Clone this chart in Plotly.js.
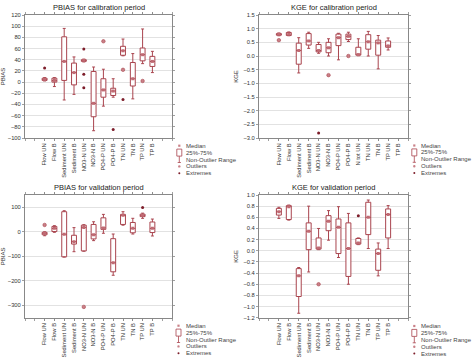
<!DOCTYPE html>
<html><head><meta charset="utf-8">
<script src="https://cdn.plot.ly/plotly-3.0.1.min.js"></script>
<style>html,body{margin:0;padding:0;background:#fff}#chart{width:474px;height:361px}</style>
</head><body><div id="chart"></div>
<script>
// ---------- DATA ----------
const catsPbiasCal = ['Flow UN','Flow B','Sediment UN','Sediment B','NO3-N UN','NO3-N B','PO4-P UN','PO4-P B','TN UN','TN B','TP UN','TP B'];
const pbiasCalMin = [2, -8, -32, -22, 36, -87, -43, -27, 47, -30, 33, 17];
const pbiasCalQ1  = [3, 0, 3, -5, 37, -62, -27, -24, 48, -7, 38, 28];
const pbiasCalMed = [5, 3, 37, 17, 39, -38, -14, -16, 56, 6, 49, 37];
const pbiasCalQ3  = [7, 7, 81, 34, 40, 19, 6, -11, 64, 35, 61, 46];
const pbiasCalMax = [8, 8, 96, 45, 41, 27, 23, 6, 77, 51, 95, 55];
const pbiasCalOutCats = ['PO4-P UN','TN UN','TP UN'];
const pbiasCalOutVals = [73, 22, 2];
const pbiasCalExtCats = ['Flow UN','NO3-N UN','NO3-N UN','NO3-N UN','PO4-P B','TN UN'];
const pbiasCalExtVals = [25, 59, 14, -10, -85, -31];

const catsKgeCal = ['Flow UN','Flow B','Sediment UN','Sediment B','NO3-N UN','NO3-N B','PO4-P UN','PO4-P B','N tot UN','TN UN','TN B','TP UN','TP B'];
const kgeCalMin = [0.74, 0.74, -0.62, 0.28, 0.10, 0.00, -0.14, 0.53, 0.01, 0.00, -0.47, 0.22, null];
const kgeCalQ1  = [0.76, 0.75, -0.30, 0.40, 0.15, 0.12, 0.38, 0.60, 0.03, 0.25, 0.03, 0.32, null];
const kgeCalMed = [0.80, 0.80, 0.20, 0.55, 0.20, 0.30, 0.67, 0.72, 0.05, 0.52, 0.48, 0.37, null];
const kgeCalQ3  = [0.82, 0.86, 0.47, 0.82, 0.42, 0.50, 0.80, 0.80, 0.32, 0.78, 0.58, 0.55, null];
const kgeCalMax = [0.84, 0.88, 0.67, 0.87, 0.50, 0.63, 0.83, 0.87, 0.63, 0.90, 0.75, 0.66, null];
const kgeCalOutCats = ['Flow UN','NO3-N B','PO4-P B'];
const kgeCalOutVals = [0.58, -0.70, 0.00];
const kgeCalExtCats = ['NO3-N UN'];
const kgeCalExtVals = [-2.82];

const catsPbiasVal = ['Flow UN','Flow B','Sediment UN','Sediment B','NO3-N UN','NO3-N B','PO4-P UN','PO4-P B','TN UN','TN B','TP UN','TP B'];
const pbiasValMin = [-16, -2, -103, -81, -79, -36, -6, -177, 27, -9, 55, -17];
const pbiasValQ1  = [-12, 1, -102, -50, -78, -29, 10, -163, 30, -4, 62, -3];
const pbiasValMed = [-6, 14, -10, -40, 18, -12, 16, -126, 67, 14, 67, 14];
const pbiasValQ3  = [-2, 22, 82, -14, 27, 30, 57, -28, 71, 38, 72, 40];
const pbiasValMax = [0, 25, 86, 17, 29, 41, 71, -9, 82, 55, 76, 52];
const pbiasValOutCats = ['Flow UN','NO3-N UN'];
const pbiasValOutVals = [28, -306];
const pbiasValExtCats = ['TP UN'];
const pbiasValExtVals = [99];

const catsKgeVal = ['Flow UN','Flow B','Sediment UN','Sediment B','NO3-N UN','NO3-N B','PO4-P UN','PO4-P B','TN UN','TN B','TP UN','TP B'];
const kgeValMin = [0.58, 0.55, -1.12, -0.38, 0.02, 0.19, -0.12, -0.60, 0.11, 0.04, -0.45, 0.04];
const kgeValQ1  = [0.64, 0.56, -0.82, 0.02, 0.03, 0.36, -0.05, -0.46, 0.12, 0.29, -0.35, 0.23];
const kgeValMed = [0.70, 0.79, -0.45, 0.35, 0.05, 0.53, 0.42, 0.04, 0.14, 0.60, -0.05, 0.65];
const kgeValQ3  = [0.76, 0.81, -0.32, 0.50, 0.23, 0.63, 0.57, 0.50, 0.22, 0.87, 0.03, 0.75];
const kgeValMax = [0.78, 0.82, -0.30, 0.80, 0.40, 0.72, 0.79, 0.67, 0.23, 0.91, 0.14, 0.81];
const kgeValOutCats = ['NO3-N UN'];
const kgeValOutVals = [-0.60];
const kgeValExtCats = ['TN UN'];
const kgeValExtVals = [0.63];

// ---------- STYLE ----------
const RED = '#a9444e';
const FONT = 'Liberation Sans, Arial, sans-serif';
const W = 474, H = 361;
const px = x => x / W, py = y => 1 - y / H;

const traces = [];
function panel(s, cats, mn, q1, md, q3, mx, oc, ov, ec, ev) {
  const idx = [];
  cats.forEach((c, i) => { if (md[i] !== null) idx.push(i); });
  const pick = a => idx.map(i => a[i]);
  traces.push({
    type: 'box', xaxis: 'x' + s, yaxis: 'y' + s,
    x: idx, q1: pick(q1), median: pick(md), q3: pick(q3),
    lowerfence: pick(mn), upperfence: pick(mx),
    width: 0.5, whiskerwidth: 0.6, fillcolor: '#ffffff',
    line: { color: RED, width: 1 }, boxpoints: false,
    hoverinfo: 'skip', showlegend: false
  });
  traces.push({
    type: 'scatter', mode: 'markers', xaxis: 'x' + s, yaxis: 'y' + s,
    x: idx, y: pick(md), showlegend: false, hoverinfo: 'skip',
    marker: { symbol: 'square', size: 3, color: '#c06a73' }
  });
  traces.push({
    type: 'scatter', mode: 'markers', xaxis: 'x' + s, yaxis: 'y' + s,
    x: oc.map(c => cats.indexOf(c)), y: ov, showlegend: false, hoverinfo: 'skip',
    marker: { symbol: 'circle', size: 3.5, color: '#c98088', line: { color: RED, width: 0.6 } }
  });
  traces.push({
    type: 'scatter', mode: 'markers', xaxis: 'x' + s, yaxis: 'y' + s,
    x: ec.map(c => cats.indexOf(c)), y: ev, showlegend: false, hoverinfo: 'skip',
    marker: { symbol: 'circle', size: 3, color: '#7d1d2a' }
  });
}
panel('', catsPbiasCal, pbiasCalMin, pbiasCalQ1, pbiasCalMed, pbiasCalQ3, pbiasCalMax, pbiasCalOutCats, pbiasCalOutVals, pbiasCalExtCats, pbiasCalExtVals);
panel('2', catsKgeCal, kgeCalMin, kgeCalQ1, kgeCalMed, kgeCalQ3, kgeCalMax, kgeCalOutCats, kgeCalOutVals, kgeCalExtCats, kgeCalExtVals);
panel('3', catsPbiasVal, pbiasValMin, pbiasValQ1, pbiasValMed, pbiasValQ3, pbiasValMax, pbiasValOutCats, pbiasValOutVals, pbiasValExtCats, pbiasValExtVals);
panel('4', catsKgeVal, kgeValMin, kgeValQ1, kgeValMed, kgeValQ3, kgeValMax, kgeValOutCats, kgeValOutVals, kgeValExtCats, kgeValExtVals);

function xax(cats, x0, x1, anchor) {
  return {
    domain: [px(x0), px(x1)], anchor: anchor, range: [-2, 13],
    tickmode: 'array', tickvals: cats.map((c, i) => i), ticktext: cats,
    tickangle: -90, tickfont: { size: 5.8, color: '#333', family: FONT },
    ticks: 'outside', ticklen: 2, tickcolor: '#888', tickwidth: 0.8,
    minor: { tickmode: 'linear', tick0: 0, dtick: 1, ticks: 'outside', ticklen: 2, tickcolor: '#888' },
    showline: true, linecolor: '#888', linewidth: 1, mirror: 'ticks',
    showgrid: false, zeroline: false, fixedrange: true
  };
}
function yax(title, y0, y1, anchor, range, extra) {
  return Object.assign({
    domain: [py(y1), py(y0)], anchor: anchor, range: range,
    title: { text: title, font: { size: 6, color: '#333', family: FONT }, standoff: 4 },
    tickfont: { size: 5.8, color: '#333', family: FONT },
    ticks: 'outside', ticklen: 2, tickcolor: '#888', tickwidth: 0.8,
    showline: true, linecolor: '#888', linewidth: 1, mirror: 'ticks',
    showgrid: true, gridcolor: '#e2e2e2', gridwidth: 1, zeroline: false, fixedrange: true
  }, extra);
}

const annotations = [];
const shapes = [];
function title(text, cx, cy) {
  annotations.push({ xref: 'paper', yref: 'paper', x: px(cx), y: py(cy), text: text,
    showarrow: false, xanchor: 'center', yanchor: 'middle',
    font: { size: 7.5, color: '#222', family: FONT } });
}
title('PBIAS for calibration period', 99, 7);
title('KGE for calibration period', 333.5, 7);
title('PBIAS for validation period', 99, 187);
title('KGE for validation period', 333.5, 187);

const legendLabels = ['Median', '25%-75%', 'Non-Outlier Range', 'Outliers', 'Extremes'];
function legend(tx, ty) {
  const dy = 6.9, mx = tx - 5;
  legendLabels.forEach((t, i) => {
    annotations.push({ xref: 'paper', yref: 'paper', x: px(tx), y: py(ty + i * dy), text: t,
      showarrow: false, xanchor: 'left', yanchor: 'middle',
      font: { size: 6, color: '#444', family: FONT } });
  });
  const P = { xref: 'paper', yref: 'paper' };
  shapes.push(Object.assign({ type: 'rect', x0: px(mx - 1.1), x1: px(mx + 1.1), y0: py(ty - 1.1), y1: py(ty + 1.1), fillcolor: '#c98088', line: { width: 0 } }, P));
  shapes.push(Object.assign({ type: 'line', x0: px(mx), x1: px(mx), y0: py(ty + dy + 3.5), y1: py(ty + 2 * dy + 3), line: { color: RED, width: 0.8 } }, P));
  shapes.push(Object.assign({ type: 'line', x0: px(mx - 1.6), x1: px(mx + 1.6), y0: py(ty + 2 * dy + 3), y1: py(ty + 2 * dy + 3), line: { color: RED, width: 0.8 } }, P));
  shapes.push(Object.assign({ type: 'rect', x0: px(mx - 2.5), x1: px(mx + 2.5), y0: py(ty + dy - 3.5), y1: py(ty + dy + 3.5), fillcolor: '#ffffff', line: { color: RED, width: 0.8 } }, P));
  shapes.push(Object.assign({ type: 'circle', x0: px(mx - 1.2), x1: px(mx + 1.2), y0: py(ty + 3 * dy - 1.2), y1: py(ty + 3 * dy + 1.2), fillcolor: '#c98088', line: { width: 0 } }, P));
  shapes.push(Object.assign({ type: 'circle', x0: px(mx - 1), x1: px(mx + 1), y0: py(ty + 4 * dy - 1), y1: py(ty + 4 * dy + 1), fillcolor: '#7d1d2a', line: { width: 0 } }, P));
}
legend(184.3, 145.7);
legend(419.3, 145.5);
legend(183.5, 325.7);
legend(419.3, 326);

const layout = {
  width: W, height: H, margin: { l: 0, r: 0, t: 0, b: 0 },
  paper_bgcolor: '#ffffff', plot_bgcolor: '#ffffff',
  font: { family: FONT, color: '#333' }, showlegend: false,
  xaxis: xax(catsPbiasCal, 25, 172, 'y'),
  yaxis: yax('PBIAS', 15, 138, 'x', [-100, 120], { tick0: 0, dtick: 20 }),
  xaxis2: xax(catsKgeCal, 259, 408, 'y2'),
  yaxis2: yax('KGE', 15, 138, 'x2', [-3, 1.5], { tick0: 0, dtick: 0.5, tickformat: '.1f' }),
  xaxis3: xax(catsPbiasVal, 25, 172, 'y3'),
  yaxis3: yax('PBIAS', 195, 317.7, 'x3', [-350, 150], { tickmode: 'array', tickvals: [-300, -200, -100, 0, 100] }),
  xaxis4: xax(catsKgeVal, 259, 408, 'y4'),
  yaxis4: yax('KGE', 195, 317.7, 'x4', [-1.2, 1.0], { tick0: 0, dtick: 0.2, tickformat: '.1f' }),
  annotations: annotations, shapes: shapes
};
Plotly.newPlot('chart', traces, layout, { displayModeBar: false, staticPlot: true });
</script>
</body></html>
